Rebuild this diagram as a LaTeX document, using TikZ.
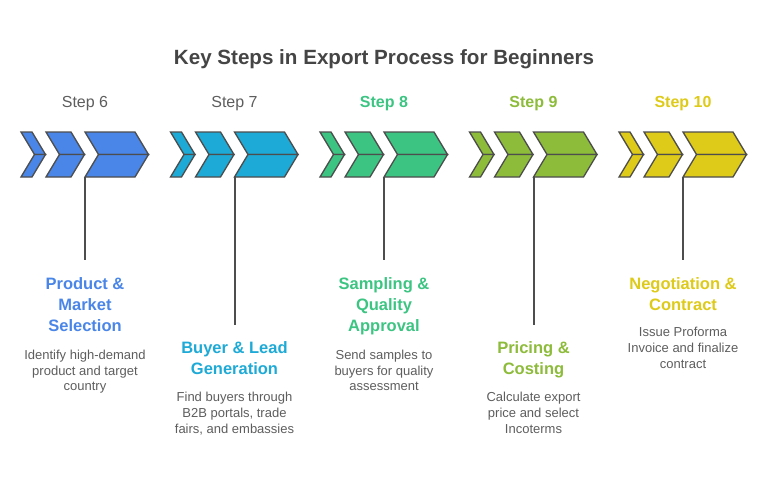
\documentclass[tikz,border=0pt]{standalone}
\usepackage{fontspec}
\setmainfont{Liberation Sans}
\definecolor{edge}{HTML}{4D4D4D}
\definecolor{titlec}{HTML}{454545}
\definecolor{descc}{HTML}{5E5E5E}
\definecolor{cA}{RGB}{74,134,232}
\definecolor{cB}{RGB}{30,170,214}
\definecolor{cC}{RGB}{60,197,130}
\definecolor{cD}{RGB}{141,187,58}
\definecolor{cE}{RGB}{222,202,24}
\newcommand\chevpiece[3]{%
  \filldraw[chev,fill=#3] (#1,132) -- (#1+#2,132) -- (#1+#2+13.5,154.5) -- (#1+13.5,154.5) -- cycle;
  \filldraw[chev,fill=#3] (#1+13.5,154.5) -- (#1+#2+13.5,154.5) -- (#1+#2,177) -- (#1,177) -- cycle;}
\newcommand\chevgroup[2]{%
  \chevpiece{#1}{11}{#2}\chevpiece{#1+25}{25}{#2}\chevpiece{#1+64}{50}{#2}}
\begin{document}
\begin{tikzpicture}[x=1pt,y=-1pt,
  chev/.style={draw=edge,line width=1.3pt,line join=miter},
  conn/.style={draw=edge,line width=1.5pt},
  ttl/.style={font=\fontsize{20.6}{24}\selectfont\bfseries,text=titlec,anchor=base,inner sep=0},
  steplbl/.style={font=\fontsize{16}{19}\selectfont,anchor=base,inner sep=0},
  head/.style={font=\fontsize{16.5}{21}\selectfont\bfseries,align=center,anchor=base,inner sep=0},
  desc/.style={font=\fontsize{13}{15.7}\selectfont,text=descc,align=center,anchor=base,inner sep=0}]
\useasboundingbox (0,0) rectangle (768,480);
\fill[white] (0,0) rectangle (768,480);

\node[ttl] (title) at (384,64.5) {Key Steps in Export Process for Beginners};

% chevrons
\chevgroup{21}{cA}
\chevgroup{170.5}{cB}
\chevgroup{320}{cC}
\chevgroup{469.5}{cD}
\chevgroup{619}{cE}

% step labels
\node[steplbl,text=descc] (s6) at (85,107.3) {Step 6};
\node[steplbl,text=descc] (s7) at (234.5,107.3) {Step 7};
\node[steplbl,text=cC,font=\fontsize{16}{19}\selectfont\bfseries] (s8) at (384,107.3) {Step 8};
\node[steplbl,text=cD,font=\fontsize{16}{19}\selectfont\bfseries] (s9) at (533.5,107.3) {Step 9};
\node[steplbl,text=cE,font=\fontsize{16}{19}\selectfont\bfseries] (s10) at (683,107.3) {Step 10};

% connector coordinates
\coordinate (a6) at (85,177);   \coordinate (b6) at (85,260);
\coordinate (a7) at (235,177); \coordinate (b7) at (235,325);
\coordinate (a8) at (384,177);  \coordinate (b8) at (384,260);
\coordinate (a9) at (534,177); \coordinate (b9) at (534,325);
\coordinate (a10) at (683,177); \coordinate (b10) at (683,260);
\draw[conn] (a6) -- (b6);
\draw[conn] (a7) -- (b7);
\draw[conn] (a8) -- (b8);
\draw[conn] (a9) -- (b9);
\draw[conn] (a10) -- (b10);

% headings (anchor base = baseline of last line)
\node[head,text=cA] (h6) at (85,331.3) {Product \&\\Market\\Selection};
\node[head,text=cB] (h7) at (234.5,374) {Buyer \& Lead\\Generation};
\node[head,text=cC] (h8) at (384,331.3) {Sampling \&\\Quality\\Approval};
\node[head,text=cD] (h9) at (533.5,374) {Pricing \&\\Costing};
\node[head,text=cE] (h10) at (683,310.3) {Negotiation \&\\Contract};

% descriptions
\node[desc] (d6) at (85,390.7) {Identify high-demand\\product and target\\country};
\node[desc] (d7) at (234.5,433) {Find buyers through\\B2B portals, trade\\fairs, and embassies};
\node[desc] (d8) at (384,390.7) {Send samples to\\buyers for quality\\assessment};
\node[desc] (d9) at (533.5,433) {Calculate export\\price and select\\Incoterms};
\node[desc] (d10) at (683,368) {Issue Proforma\\Invoice and finalize\\contract};
\end{tikzpicture}
\end{document}
